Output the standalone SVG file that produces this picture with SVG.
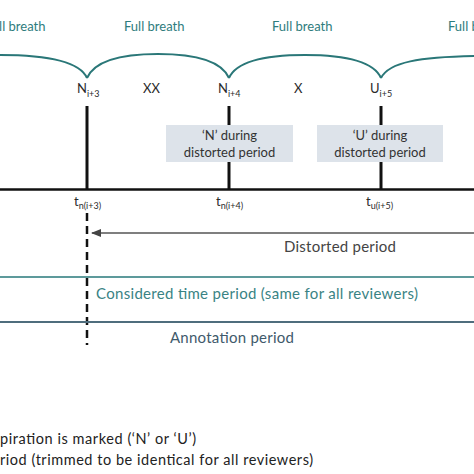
<svg xmlns="http://www.w3.org/2000/svg" width="474" height="474" viewBox="0 0 474 474">
<defs>
<style>
text{font-family:Lato,"Open Sans","Liberation Sans",sans-serif}
.fb{fill:#2e7c7d;font-size:13px}
.nl{fill:#2a2a2a;font-size:13px}
.sub{font-size:9px}
.bx{fill:#dde3ea}
.bt{fill:#333;font-size:13px;text-anchor:middle}
.vl{stroke:#111;stroke-width:3}
.arc{fill:none;stroke:#2a7778;stroke-width:2}
</style>
<marker id="ah" viewBox="0 0 10 10" refX="9" refY="5" markerWidth="7" markerHeight="7" orient="auto">
<path d="M0,1 L10,5 L0,9 Z" fill="#444"/>
</marker>
</defs>
<rect width="474" height="474" fill="#fff"/>
<g id="breaths">
<path class="arc" d="M0,55 C40,55 79,60 87,78"/>
<path class="arc" d="M87,78 C95,60 125,54 158,54 C191,54 221,60 229,78"/>
<path class="arc" d="M229,78 C237,60 269,55 305,55 C341,55 373,60 381,78"/>
<path class="arc" d="M381,78 C389,62 420,57 474,56"/>
<text class="fb" x="-15" y="31">Full breath</text>
<text class="fb" x="124" y="31">Full breath</text>
<text class="fb" x="272" y="31">Full breath</text>
<text class="fb" x="448" y="31">Full breath</text>
</g>
<g id="connectors">
<line x1="0" y1="189.5" x2="474" y2="189.5" stroke="#111" stroke-width="2.5"/>
<line class="vl" x1="87" y1="106" x2="87" y2="189"/>
<line class="vl" x1="229" y1="106" x2="229" y2="189"/>
<line class="vl" x1="381" y1="106" x2="381" y2="189"/>
<line x1="87" y1="213" x2="87" y2="345" stroke="#111" stroke-width="2.5" stroke-dasharray="8,5"/>
<line x1="474" y1="233" x2="92" y2="233" stroke="#555" stroke-width="1.5" marker-end="url(#ah)"/>
<line x1="0" y1="277" x2="474" y2="277" stroke="#5d9a9b" stroke-width="2"/>
<line x1="0" y1="322" x2="474" y2="322" stroke="#4f6d7d" stroke-width="2"/>
</g>
<g id="node-n3"><text class="nl" x="77" y="93">N<tspan class="sub" dy="4">i+3</tspan></text></g>
<g id="node-xx"><text class="nl" x="143" y="93">XX</text></g>
<g id="node-n4"><text class="nl" x="218" y="93">N<tspan class="sub" dy="4">i+4</tspan></text></g>
<g id="node-x"><text class="nl" x="294" y="93">X</text></g>
<g id="node-u5"><text class="nl" x="370" y="93">U<tspan class="sub" dy="4">i+5</tspan></text></g>
<g id="box-n">
<rect class="bx" x="166" y="125" width="127" height="37"/>
<text class="bt" x="229.5" y="140">‘N’ during</text>
<text class="bt" x="229.5" y="157">distorted period</text>
</g>
<g id="box-u">
<rect class="bx" x="317" y="125" width="126" height="37"/>
<text class="bt" x="380" y="140">‘U’ during</text>
<text class="bt" x="380" y="157">distorted period</text>
</g>
<g id="t-labels">
<text class="nl" x="74" y="206">t<tspan class="sub" dy="3">n(i+3)</tspan></text>
<text class="nl" x="216" y="206">t<tspan class="sub" dy="3">n(i+4)</tspan></text>
<text class="nl" x="366" y="206">t<tspan class="sub" dy="3">u(i+5)</tspan></text>
</g>
<g id="periods">
<text x="284" y="252" fill="#444" font-size="15" textLength="112">Distorted period</text>
<text x="96" y="299" fill="#3a8384" font-size="15" textLength="322">Considered time period (same for all reviewers)</text>
<text x="170" y="343" fill="#3f5a6b" font-size="15" textLength="124">Annotation period</text>
</g>
<g id="legend">
<text x="0" y="444" fill="#222" font-size="14.5" textLength="196">piration is marked (‘N’ or ‘U’)</text>
<text x="0" y="465" fill="#222" font-size="14.5" textLength="313">riod (trimmed to be identical for all reviewers)</text>
</g>
</svg>
